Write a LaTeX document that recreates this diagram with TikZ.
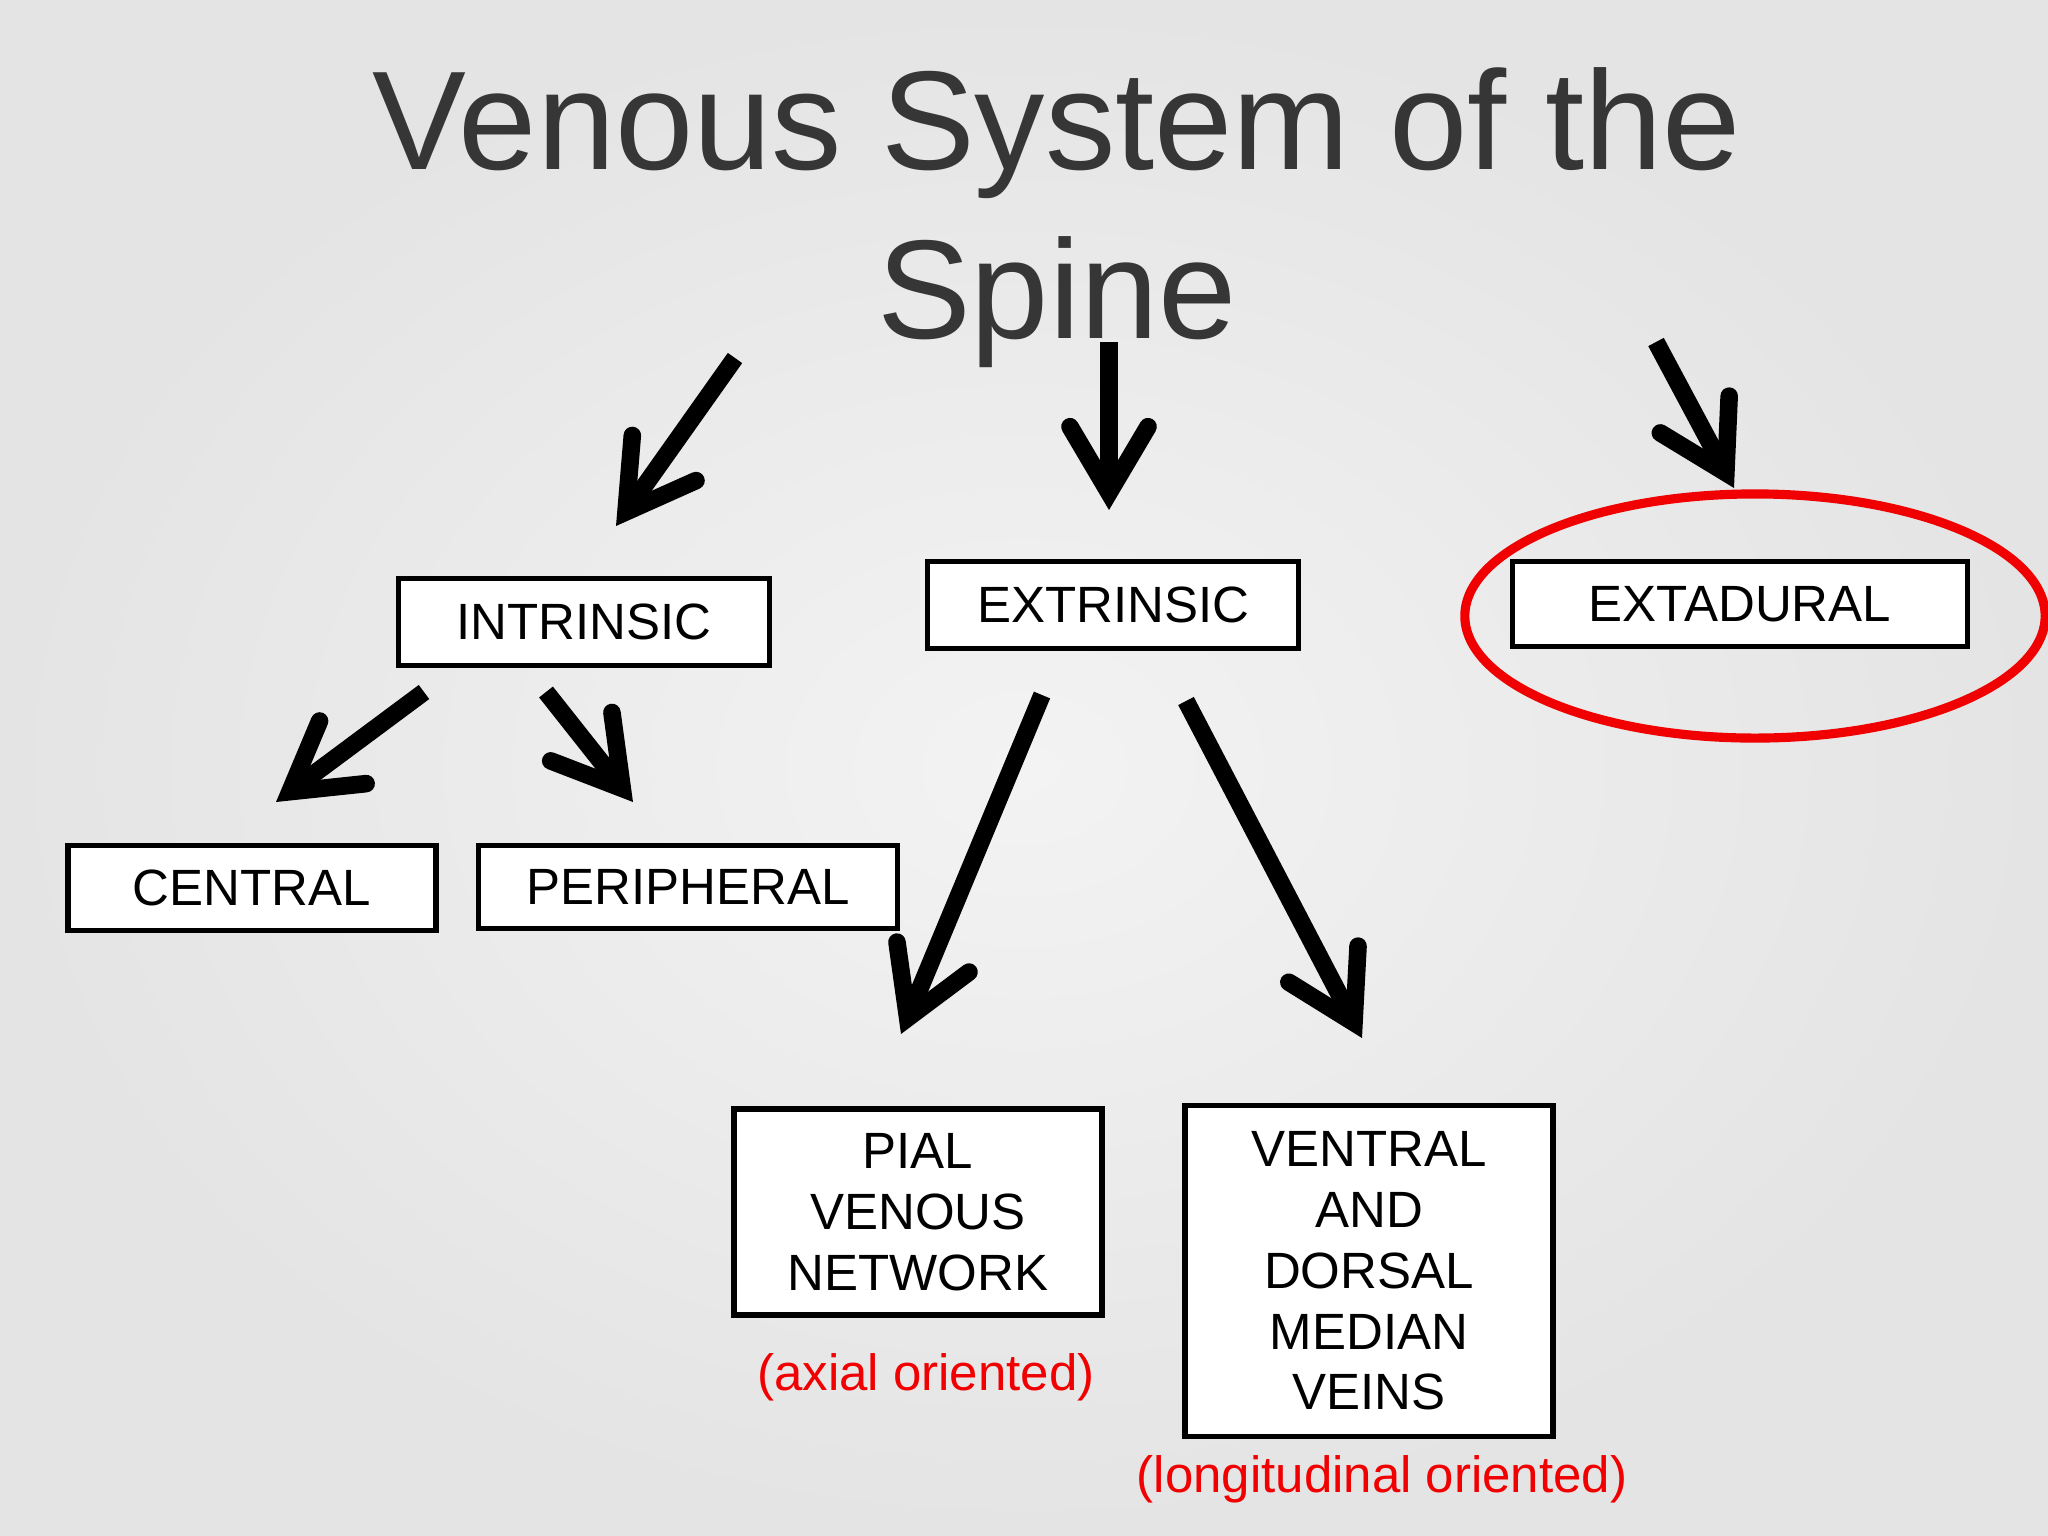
\documentclass[tikz,border=0pt]{standalone}
\usepackage{fontspec}
\setmainfont{Liberation Sans}
\usepackage{xcolor}
\definecolor{slideBg}{HTML}{F3F3F3}
\definecolor{slideEdge}{HTML}{E4E4E4}
\definecolor{titleGray}{HTML}{363636}
\definecolor{noteRed}{HTML}{F00000}
\usetikzlibrary{arrows.meta, shapes.geometric}
\tikzset{
  vbox/.style={draw=black, line width=1.5pt, fill=white, inner sep=0pt, align=center,
    font=\fontsize{14.5}{17.3}\selectfont},
  vnote/.style={text=noteRed, inner sep=0pt, font=\fontsize{14.5}{17.3}\selectfont},
  vpointer/.style={line width=5pt,
    -{Straight Barb[length=6.6mm, width=7.8mm, line cap=round, line join=miter]}},
}

\begin{document}
\begin{tikzpicture}[x=0.01cm, y=-0.01cm]
  \shade[inner color=slideBg, outer color=slideEdge] (0,0) rectangle (2048,1536);
  \useasboundingbox (0,0) rectangle (2048,1536);
  \node[text=titleGray, align=center, font=\fontsize{40}{48}\selectfont] (title) at (1057,218) {Venous System of the\\Spine};
  \node[vbox, minimum width=3.71cm, minimum height=0.87cm] (intrinsic) at (584,622) {INTRINSIC};
  \node[vbox, minimum width=3.71cm, minimum height=0.87cm] (extrinsic) at (1113,605) {EXTRINSIC};
  \node[draw=noteRed, ellipse, line width=2.6pt, minimum width=5.8cm, minimum height=2.44cm] (ring) at (1755,616) {};
  \node[vbox, minimum width=4.55cm, minimum height=0.85cm] (extadural) at (1740,604) {EXTADURAL};
  \node[vbox, minimum width=3.68cm, minimum height=0.85cm] (central) at (252,888) {CENTRAL};
  \node[vbox, minimum width=4.19cm, minimum height=0.83cm] (peripheral) at (688,887) {PERIPHERAL};
  \node[vbox, minimum width=3.68cm, minimum height=2.06cm] (pial) at (918,1212) {PIAL\\VENOUS\\NETWORK};
  \node[vbox, minimum width=3.68cm, minimum height=3.31cm] (median) at (1369,1271) {VENTRAL\\AND\\DORSAL\\MEDIAN\\VEINS};
  \node[vnote] (axial) at (926,1377) {(axial oriented)};
  \node[vnote] (longit) at (1382,1479) {(longitudinal oriented)};
  % free ends of the arrows
  \coordinate (t1) at (735,358);   \coordinate (h1) at (616,526);
  \coordinate (t2) at (1109,342);  \coordinate (h2) at (1109,510);
  \coordinate (t3) at (1656,342);  \coordinate (h3) at (1734,488);
  \coordinate (t4) at (424,692);   \coordinate (h4) at (276,802);
  \coordinate (t5) at (546,692);   \coordinate (h5) at (633,802);
  \coordinate (t6) at (1042,695);  \coordinate (h6) at (901,1034);
  \coordinate (t7) at (1186,701);  \coordinate (h7) at (1362,1038);
  \draw[vpointer] (t1) -- (h1);
  \draw[vpointer] (t2) -- (h2);
  \draw[vpointer] (t3) -- (h3);
  \draw[vpointer] (t4) -- (h4);
  \draw[vpointer] (t5) -- (h5);
  \draw[vpointer] (t6) -- (h6);
  \draw[vpointer] (t7) -- (h7);
\end{tikzpicture}
\end{document}
